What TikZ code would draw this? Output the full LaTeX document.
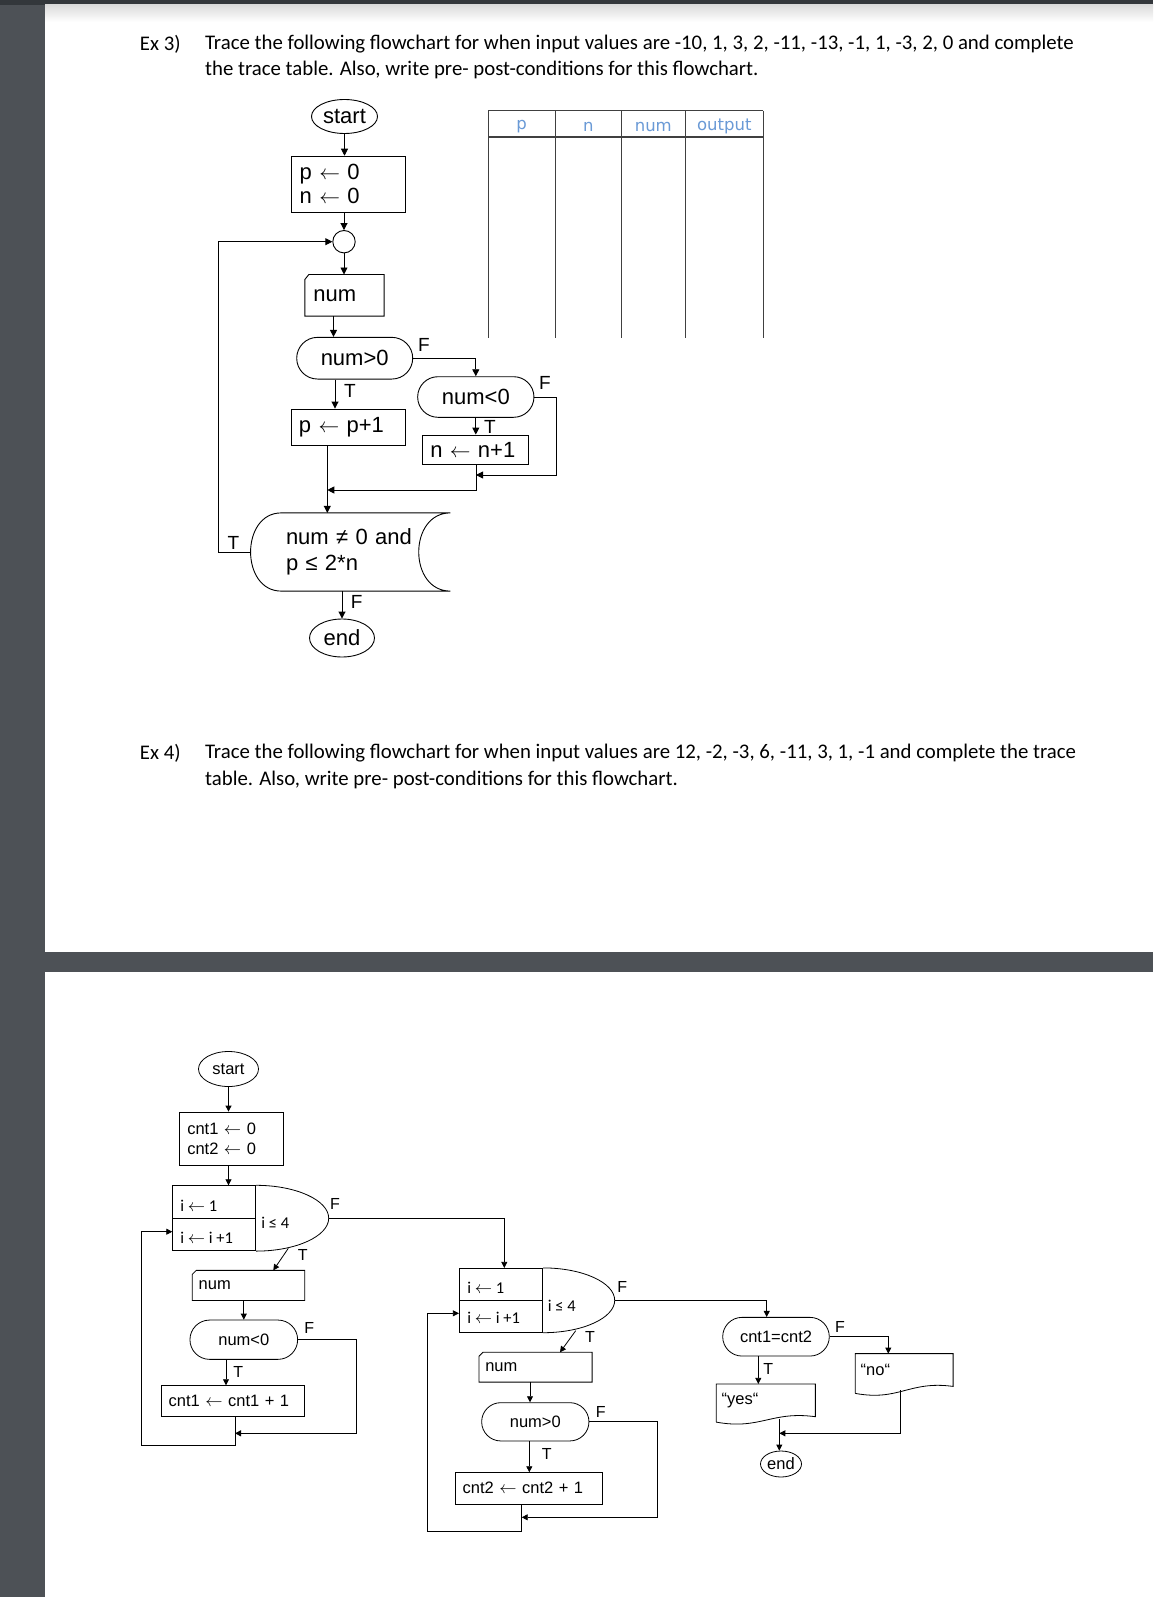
\documentclass[tikz,border=0pt]{standalone}
\usepackage{fontspec}
\setmainfont{Liberation Sans}
\newfontfamily\calib{Carlito}
\newfontfamily\tabfont{DejaVu Sans}
\usetikzlibrary{shapes.geometric,shapes.misc,arrows.meta}
\definecolor{bggray}{HTML}{4D5156}
\definecolor{bgdark}{HTML}{33373B}
\definecolor{headblue}{HTML}{6A9AD6}

\begin{document}
\begin{tikzpicture}[x=1pt,y=-1pt,line width=0.9pt,
    arr/.style={-{Triangle[length=7pt,width=7pt]}},
    arrs/.style={-{Triangle[length=6pt,width=6pt]}},
    fa/.style={font=\fontsize{22}{24}\selectfont},
    fb/.style={font=\fontsize{16.5}{20}\selectfont},
    lab/.style={font=\fontsize{16}{16}\selectfont, inner sep=0pt},
    laba/.style={font=\fontsize{19}{19}\selectfont, inner sep=0pt},
    lp/.style={font=\calib\fontsize{16.5}{18}\selectfont, anchor=west, inner sep=0pt},
    ex/.style={font=\calib\fontsize{20.8}{24}\selectfont, anchor=west, inner sep=0pt},
    head/.style={font=\tabfont\fontsize{16.5}{18}\selectfont, text=headblue, inner sep=0pt},
    tline/.style={draw=black!75, line width=0.8pt},
    term/.style={draw, ellipse, inner sep=0pt},
    dec/.style={draw, rounded rectangle, inner sep=0pt},
    box/.style={draw, rectangle, align=left, inner xsep=8pt, inner ysep=0pt},
    inp/.style={rectangle, align=left, inner xsep=8pt, inner ysep=0pt}]
    \useasboundingbox (0,0) rectangle (1153,1597);

    % pages
    \fill[bggray] (0,0) rectangle (1153,1597);
    \fill[bgdark] (0,0) rectangle (1153,5);
    \fill[white] (45,5) rectangle (1153,952);
    \fill[white] (45,972) rectangle (1153,1597);
    \shade[top color=black!14, bottom color=white] (45,5) rectangle (1153,22);

    % Ex 3
    \node[ex] (ex3) at (139.5,44) {Ex 3)};
    \node[ex] (ex3a) at (204.7,44) {Trace the following flowchart for when input values are -10, 1, 3, 2, -11, -13, -1, 1, -3, 2, 0 and complete};
    \node[ex] (ex3b) at (204.7,70) {the trace table. Also, write pre- post-conditions for this flowchart.};

    \node[term, fa, minimum width=66pt, minimum height=34pt] (start) at (344.5,116.5) {start};
    \node[box, fa, minimum width=114pt, minimum height=56pt, text width=98pt] (init) at (348.7,184.2) {p $\leftarrow$ 0\\n $\leftarrow$ 0};
    \node[draw, circle, minimum size=22.4pt, inner sep=0pt] (join) at (344,241.7) {};
    \node[inp, fa, minimum width=78.4pt, minimum height=40.7pt, text width=62.4pt] (num) at (344.5,295.3) {num};
    \draw (num.south west) -- (num.south east) -- (num.north east) -- ([xshift=4pt]num.north west) -- ([yshift=-5pt]num.north west) -- cycle;
    \node[dec, fa, minimum width=116pt, minimum height=41.7pt] (pos) at (354.7,358.2) {num>0};
    \node[box, fa, minimum width=114.7pt, minimum height=36pt, text width=98.7pt] (incp) at (348.3,427) {p $\leftarrow$ p+1};
    \node[dec, fa, minimum width=116.3pt, minimum height=40.6pt] (neg) at (475.8,397) {num<0};
    \node[box, fa, minimum width=106pt, minimum height=29.3pt, text width=90pt] (incn) at (475.3,449.7) {n $\leftarrow$ n+1};
    \node[inp, fa, minimum width=199pt, minimum height=77.3pt, text width=129pt] (cond) at (350.5,552) {num ≠ 0 and\\[2pt]p ≤ 2*n};
    \draw ([xshift=30.7pt]cond.north west) -- (cond.north east) .. controls ([xshift=-42.3pt]cond.north east) and ([xshift=-42.3pt]cond.south east) .. (cond.south east) -- ([xshift=30.7pt]cond.south west) .. controls ([xshift=-10.2pt]cond.south west) and ([xshift=-10.2pt]cond.north west) .. cycle;
    \node[term, fa, minimum width=65pt, minimum height=38pt] (stop) at (342,638) {end};

    \coordinate (m1) at (476,475);
    \coordinate (m2) at (327.3,490);
    \draw[arr] (start.south) -- (start.south |- init.north);
    \draw[arr] (init.south -| join) -- (join.north);
    \draw[arr] (join.south) -- (join.south |- num.north);
    \draw[arr] ([xshift=-11pt]num.south) -- ([xshift=-11pt]num.south |- pos.north);
    \draw[arr] (pos.east) -| (neg.north);
    \draw[arr] ([xshift=-19.7pt]pos.south) -- ([xshift=-19.7pt]pos.south |- incp.north);
    \draw[arr] (neg.south) -- (neg.south |- incn.north);
    \draw[arr] (neg.east) -- ++(22,0) |- (m1);
    \draw[arr] (incn.south -| m1) |- (m2);
    \draw[arr] (incp.south -| m2) -- (m2 |- cond.north);
    \draw[arr] (cond.west) -- ++(-32,0) |- (join.west);
    \draw[arr] (stop.north |- cond.south) -- (stop.north);

    \node[laba] (fpos) at (424,345) {F};
    \node[laba] (tpos) at (350,391) {T};
    \node[laba] (fneg) at (545,383.3) {F};
    \node[laba] (tneg) at (490,426.7) {T};
    \node[laba] (tcond) at (233.3,542.5) {T};
    \node[laba] (fcond) at (356.7,601.7) {F};

    % trace table
    \draw[tline] (488.3,110.7) -- (763.3,110.7);
    \draw[tline, line width=1.3pt] (488.3,137) -- (763.3,137);
    \foreach \x in {488.3,555.7,621.7,685.7,763.3}
        \draw[tline] (\x,110.7) -- (\x,338);
    \node[head] (hp) at (521.7,126.5) {p};
    \node[head] (hn) at (588.3,126.5) {n};
    \node[head] (hnum) at (653.3,126.5) {num};
    \node[head] (hout) at (724.3,126.5) {output};

    % Ex 4
    \node[ex] (ex4) at (139.5,753) {Ex 4)};
    \node[ex] (ex4a) at (204.7,753) {Trace the following flowchart for when input values are 12, -2, -3, 6, -11, 3, 1, -1 and complete the trace};
    \node[ex] (ex4b) at (204.7,779.5) {table. Also, write pre- post-conditions for this flowchart.};

    \begin{scope}[line width=0.8pt]
    \node[term, fb, minimum width=60pt, minimum height=35pt] (start2) at (228.5,1069) {start};
    \node[box, fb, minimum width=104pt, minimum height=53pt, text width=88pt] (init2) at (231.3,1138.5) {cnt1 $\leftarrow$ 0\\cnt2 $\leftarrow$ 0};

    % first loop
    \node[draw, minimum width=83pt, minimum height=65pt, inner sep=0pt] (loopA) at (214.2,1218.2) {};
    \draw (loopA.west) -- (loopA.east);
    \coordinate (loopAtip) at ([xshift=72.6pt]loopA.east);
    \draw (loopA.north east) .. controls +(40.1,0) and +(0,-17.95) .. (loopAtip) .. controls +(0,17.95) and +(40.1,0) .. (loopA.south east);
    \node[lp] (iA1) at (180,1205.7) {i $\leftarrow$ 1};
    \node[lp] (iA2) at (180,1238.3) {i $\leftarrow$ i +1};
    \node[lp] (cA) at (261,1223.3) {i ≤ 4};

    \node[inp, fb, minimum width=111.6pt, minimum height=29.3pt, text width=99.6pt, inner xsep=6pt] (num2) at (248.5,1285.4) {num};
    \draw (num2.south west) -- (num2.south east) -- (num2.north east) -- ([xshift=4pt]num2.north west) -- ([yshift=-4pt]num2.north west) -- cycle;
    \node[dec, fb, minimum width=107.7pt, minimum height=39.3pt] (neg2) at (243.8,1339.7) {num<0};
    \node[box, fb, minimum width=142.6pt, minimum height=30.3pt, text width=128.6pt, inner xsep=7pt] (inc1) at (233,1400.8) {cnt1 $\leftarrow$ cnt1 + 1};

    \coordinate (tA) at (288.3,1248.3);
    \coordinate (mA) at (235,1433.3);
    \coordinate (bA) at (141.7,1445);
    \draw[arrs] (start2.south) -- (start2.south |- init2.north);
    \draw[arrs] (init2.south -| start2) -- (start2 |- loopA.north);
    \draw[arrs] (tA) -- ([xshift=24.8pt]num2.north);
    \draw[arrs] (num2.south -| neg2) -- (neg2.north);
    \draw[arrs] ([xshift=-17.8pt]neg2.south) -- ([xshift=-17.8pt]neg2.south |- inc1.north);
    \draw[arrs] (neg2.east) -- ++(58.3,0) |- (mA);
    \draw[arrs] (inc1.south -| mA) |- (bA) |- ([yshift=-13.5pt]loopA.west);

    % second loop
    \node[draw, minimum width=83.4pt, minimum height=64pt, inner sep=0pt] (loopB) at (501,1300.3) {};
    \draw (loopB.west) -- (loopB.east);
    \coordinate (loopBtip) at ([xshift=71.6pt]loopB.east);
    \draw (loopB.north east) .. controls +(39.5,0) and +(0,-17.7) .. (loopBtip) .. controls +(0,17.7) and +(39.5,0) .. (loopB.south east);
    \node[lp] (iB1) at (467,1288.3) {i $\leftarrow$ 1};
    \node[lp] (iB2) at (467,1318.3) {i $\leftarrow$ i +1};
    \node[lp] (cB) at (547.5,1306) {i ≤ 4};
    \draw[arrs] (loopAtip) -| ([xshift=3.3pt]loopB.north);

    \node[inp, fb, minimum width=112.4pt, minimum height=29pt, text width=100.4pt, inner xsep=6pt] (num3) at (535.5,1367.2) {num};
    \draw (num3.south west) -- (num3.south east) -- (num3.north east) -- ([xshift=4pt]num3.north west) -- ([yshift=-4pt]num3.north west) -- cycle;
    \node[dec, fb, minimum width=107.3pt, minimum height=38.3pt] (pos2) at (535.3,1421.8) {num>0};
    \node[box, fb, minimum width=147pt, minimum height=31.3pt, text width=133pt, inner xsep=7pt] (inc2) at (529.2,1488.3) {cnt2 $\leftarrow$ cnt2 + 1};

    \coordinate (tB) at (575.7,1330.7);
    \coordinate (mB) at (521.7,1517.3);
    \coordinate (bB) at (427.3,1531.7);
    \draw[arrs] (tB) -- ([xshift=24.5pt]num3.north);
    \draw[arrs] ([xshift=-5.3pt]pos2.north |- num3.south) -- ([xshift=-5.3pt]pos2.north);
    \draw[arrs] ([xshift=-6pt]pos2.south) -- ([xshift=-6pt]pos2.south |- inc2.north);
    \draw[arrs] (pos2.east) -- ++(68.3,0) |- (mB);
    \draw[arrs] (inc2.south -| mB) |- (bB) |- ([yshift=-13pt]loopB.west);

    % result
    \node[dec, fb, minimum width=106.6pt, minimum height=38.7pt] (same) at (776,1336.7) {cnt1=cnt2};
    \node[inp, fb, minimum width=97pt, minimum height=32pt, text width=87pt, inner xsep=5pt] (no) at (904.2,1370) {“no“};
    \draw ([yshift=-7pt]no.south west) -- (no.north west) -- (no.north east) -- (no.south east) .. controls +(-44,-6) and +(44,8) .. ([yshift=-7pt]no.south west);
    \node[inp, fb, minimum width=98.3pt, minimum height=32pt, text width=88.3pt, inner xsep=5pt] (yes) at (765.8,1400.3) {“yes“};
    \draw ([yshift=-5.4pt]yes.south west) -- (yes.north west) -- (yes.north east) -- (yes.south east) .. controls +(-44,-6) and +(44,8) .. ([yshift=-5.4pt]yes.south west);
    \node[term, fb, minimum width=41pt, minimum height=26pt] (stop2) at (781,1464) {end};

    \coordinate (yB) at (779.3,1419);
    \coordinate (nB) at (900.7,1390);
    \coordinate (mC) at (779.3,1433.3);
    \draw[arrs] (loopBtip) -| ([xshift=-9.3pt]same.north);
    \draw[arrs] (same.east) -| ([xshift=-15.9pt]no.north);
    \draw[arrs] ([xshift=-17.7pt]same.south) -- ([xshift=-17.7pt]same.south |- yes.north);
    \draw[arrs] (yB) -- (yB |- stop2.north);
    \draw[arrs] (nB) |- (mC);
    \end{scope}

    \node[lab] (fA) at (335,1204.3) {F};
    \node[lab] (tAl) at (302.7,1255) {T};
    \node[lab] (fneg2) at (309.3,1328.3) {F};
    \node[lab] (tneg2) at (238.3,1371.7) {T};
    \node[lab] (fB) at (622.3,1287.3) {F};
    \node[lab] (tBl) at (590,1336.7) {T};
    \node[lab] (fpos2) at (600.7,1411.7) {F};
    \node[lab] (tpos2) at (546.7,1454) {T};
    \node[lab] (fsame) at (840,1326.7) {F};
    \node[lab] (tsame) at (768.3,1369) {T};
\end{tikzpicture}
\end{document}
